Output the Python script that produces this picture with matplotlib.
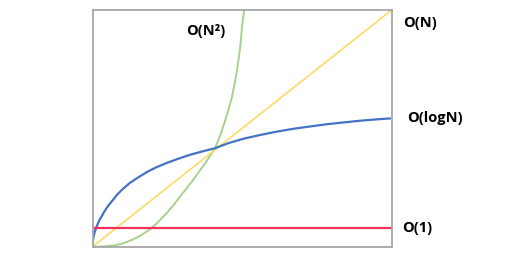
import matplotlib
matplotlib.use("Agg")
import matplotlib.pyplot as plt

# values, both axes 0..100
const_x = [0, 100]
const_y = [7.8, 7.8]

linear_x = [0, 100]
linear_y = [0, 100]

log_x = [0, 0.1, 0.3, 0.6, 1.0, 1.5, 2.2, 3.0, 4.0, 5.2, 6.5, 8.2, 10.2, 12.5,
         15.5, 18.5, 21.4, 25.0, 28.5, 32.5, 36.5, 40.9, 45.5, 50.4, 56.0,
         61.5, 67.0, 72.7, 78.0, 83.8, 90.0, 95.0, 99.4]
log_y = [0, 2.4, 4.1, 5.8, 7.3, 9.0, 11.0, 12.8, 15.0, 17.3, 19.3, 22.0, 24.5,
         27.0, 29.5, 31.8, 33.6, 35.5, 37.1, 38.8, 40.2, 41.6, 43.8, 45.6,
         47.2, 48.6, 49.8, 50.8, 51.7, 52.5, 53.3, 53.8, 54.2]

quad_x = [0, 2.5, 5.0, 7.5, 10.2, 13.0, 15.8, 19.7, 22.2, 24.7, 27.0, 29.2,
          31.4, 33.6, 35.6, 37.6, 39.3, 40.9, 42.6, 44.2, 45.4, 46.5, 47.4,
          48.2, 48.8, 49.3, 49.7, 50.0, 50.4, 50.7]
quad_y = [0, 0.05, 0.25, 0.6, 1.4, 2.8, 4.5, 7.8, 10.8, 14.1, 17.5, 21.1,
          24.6, 28.2, 31.7, 35.2, 38.4, 41.6, 46.8, 52.8, 57.8, 62.7, 68.3,
          73.9, 78.9, 83.8, 88.8, 93.7, 97.0, 100]

labels = ["O(N)", "O(logN)", "O(1)", "O(N²)"]
label_x = [103.8, 105.1, 103.4, 31.2]
label_y = [94.5, 54.4, 7.9, 91.1]


def main():
    fig = plt.figure(figsize=(5.06, 2.57), dpi=100)
    ax = fig.add_axes([0.183, 0.040, 0.591, 0.921])

    ax.plot(quad_x, quad_y, color="#A9D18E", lw=1.4)
    ax.plot(linear_x, linear_y, color="#FFD966", lw=1.2)
    ax.plot(log_x, log_y, color="#4472C4", lw=1.6)
    ax.plot(const_x, const_y, color="#F2305C", lw=1.6)

    ax.set_xlim(0, 100)
    ax.set_ylim(0, 100)
    ax.set_xticks([])
    ax.set_yticks([])
    for s in ax.spines.values():
        s.set_color("#A6A6A6")
        s.set_linewidth(1.3)

    for t, x, y in zip(labels, label_x, label_y):
        ax.text(x, y, t, ha="left", va="center", fontsize=10.5,
                fontweight="bold", family="Open Sans", clip_on=False)

    fig.savefig("out.png", dpi=100)


if __name__ == "__main__":
    main()
